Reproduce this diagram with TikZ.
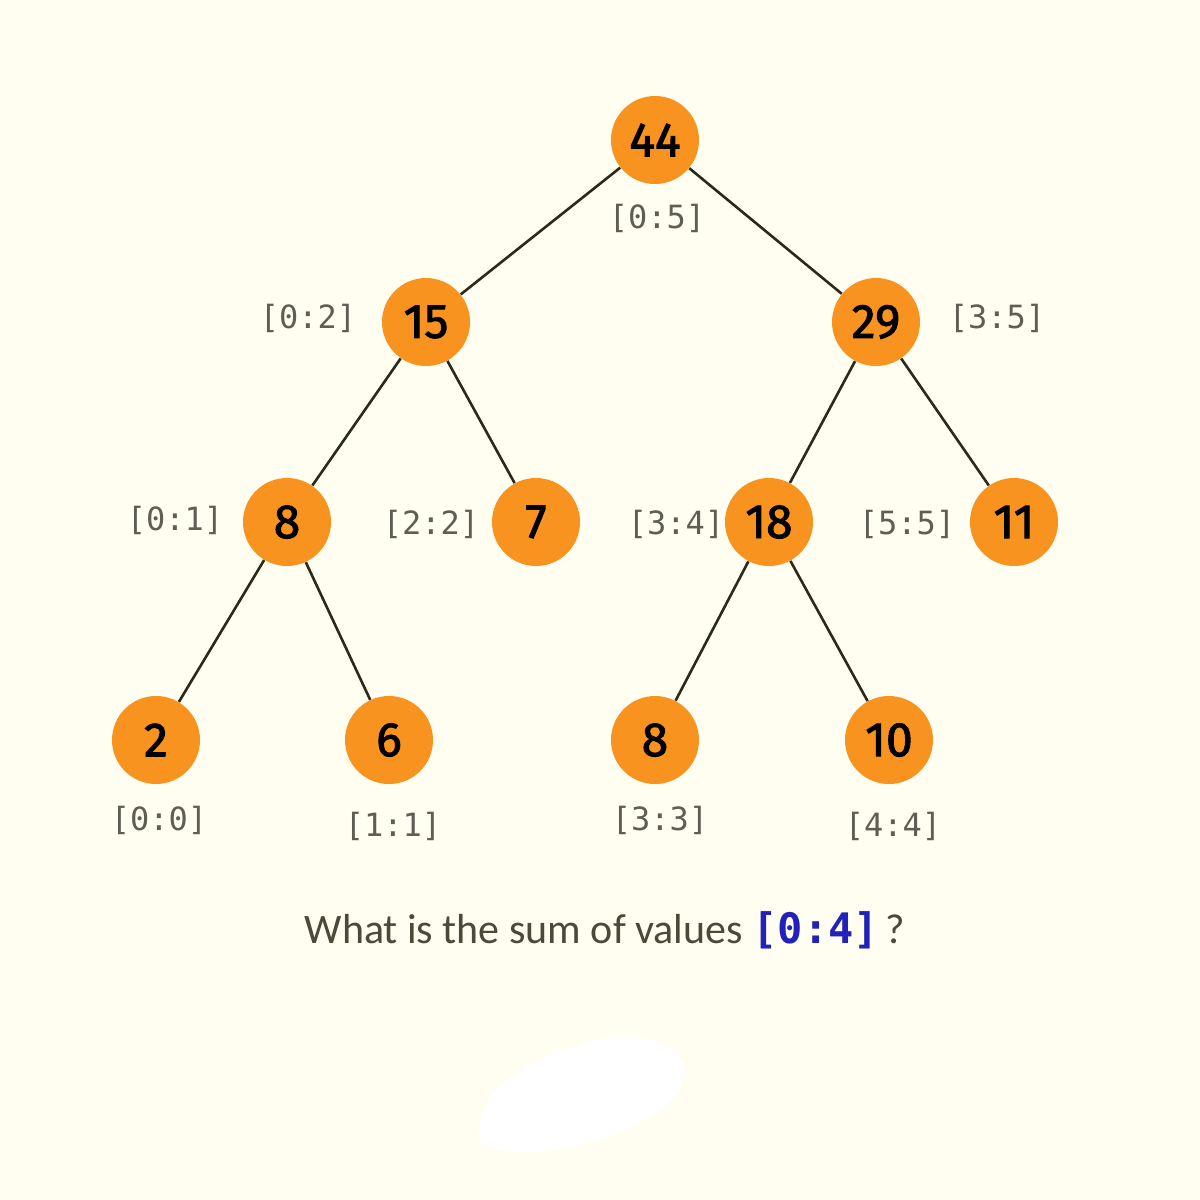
\documentclass[tikz,border=0pt]{standalone}
\usepackage{fontspec}
\setmainfont{Carlito}
\newfontfamily\labfont{DejaVu Sans Mono}
\newfontfamily\numfont[FakeBold=2]{Fira Sans}
\definecolor{bgc}{HTML}{FFFEF0}
\definecolor{nodeor}{HTML}{F7931E}
\definecolor{edgec}{HTML}{2B2A1A}
\definecolor{labc}{HTML}{5E5E55}
\definecolor{qc}{HTML}{4A4A38}
\definecolor{qblue}{HTML}{2222BB}
\begin{document}
\begin{tikzpicture}[x=0.5pt,y=-0.5pt,
  tnode/.style={circle,fill=nodeor,minimum size=44pt,inner sep=0pt,font=\numfont\fontsize{24}{28}\selectfont,text=black},
  rng/.style={font=\labfont\fontsize{16}{18}\selectfont,text=labc},
  edge/.style={draw=edgec,line width=1.3pt}]
\useasboundingbox (0,0) rectangle (1200,1200);
\fill[bgc] (0,0) rectangle (1200,1200);
\fill[white] (480,1140) .. controls (470,1100) and (520,1060) .. (580,1045)
  .. controls (620,1030) and (670,1035) .. (685,1065)
  .. controls (690,1100) and (640,1130) .. (580,1145)
  .. controls (540,1155) and (490,1155) .. (480,1140) -- cycle;
\node[tnode] (n44) at (655,140) {44};
\node[tnode] (n15) at (426,322) {15};
\node[tnode] (n29) at (876,322) {29};
\node[tnode] (n8) at (287,522) {8};
\node[tnode] (n7) at (536,522) {7};
\node[tnode] (n18) at (769,522) {18};
\node[tnode] (n11) at (1014,522) {11};
\node[tnode] (n2) at (156,740) {2};
\node[tnode] (n6) at (389,740) {6};
\node[tnode] (n8b) at (655,740) {8};
\node[tnode] (n10) at (889,740) {10};
\draw[edge] (n44) -- (n15);
\draw[edge] (n44) -- (n29);
\draw[edge] (n15) -- (n8);
\draw[edge] (n15) -- (n7);
\draw[edge] (n29) -- (n18);
\draw[edge] (n29) -- (n11);
\draw[edge] (n8) -- (n2);
\draw[edge] (n8) -- (n6);
\draw[edge] (n18) -- (n8b);
\draw[edge] (n18) -- (n10);
\node[rng] (l05) at (657,218) {[0:5]};
\node[rng] (l02) at (308,318) {[0:2]};
\node[rng] (l35) at (997,318) {[3:5]};
\node[rng] (l01) at (175,520) {[0:1]};
\node[rng] (l22) at (431,524) {[2:2]};
\node[rng] (l34) at (676,524) {[3:4]};
\node[rng] (l55) at (907,524) {[5:5]};
\node[rng] (l00) at (159,820) {[0:0]};
\node[rng] (l11) at (393,826) {[1:1]};
\node[rng] (l33) at (660,820) {[3:3]};
\node[rng] (l44) at (893,826) {[4:4]};
\node[font=\fontsize{21}{25}\selectfont,text=qc] (q) at (605,930) {What is the sum of values {\labfont\bfseries\color{qblue}[0:4]}\,?};
\end{tikzpicture}
\end{document}
